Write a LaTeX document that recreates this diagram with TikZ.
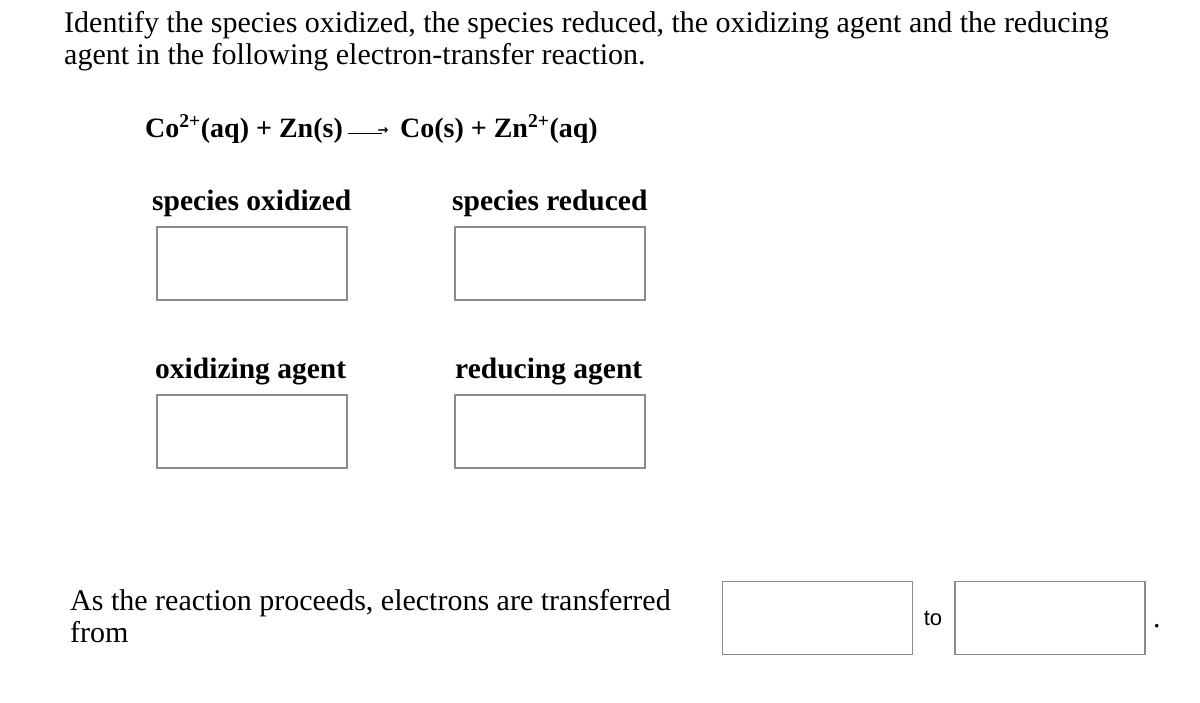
\documentclass[tikz,border=0pt]{standalone}
\usepackage{fontspec}
\setmainfont{Liberation Serif}
\begin{document}
\begin{tikzpicture}[x=1pt,y=-1pt,
  txt/.style={anchor=base west,inner sep=0pt,font=\fontsize{30}{33}\selectfont},
  btxt/.style={anchor=base west,inner sep=0pt,font=\fontsize{29.5}{30}\selectfont\bfseries},
  ansbox/.style={draw=black!45,line width=1.5pt,minimum width=190pt,minimum height=73pt,inner sep=0pt}]
\useasboundingbox (0,0) rectangle (1200,702);
\node[txt] (l1) at (64,32) {Identify the species oxidized, the species reduced, the oxidizing agent and the reducing};
\node[txt] (l2) at (64,64) {agent in the following electron-transfer reaction.};
\node[btxt,font=\fontsize{28}{30}\selectfont\bfseries] (eq) at (145,137) {Co\textsuperscript{2+}(aq) + Zn(s)\,\raisebox{0.25ex}{\rule{34pt}{0.8pt}}\kern-4pt{\fontspec{DejaVu Sans}\fontsize{13}{13}\selectfont\raisebox{0.4ex}{→}}\, Co(s) + Zn\textsuperscript{2+}(aq)};
\node[btxt] (so) at (152,210) {species oxidized};
\node[btxt] (sr) at (452,210) {species reduced};
\node[ansbox] (b1) at (252,263.5) {};
\node[ansbox] (b2) at (550,263.5) {};
\node[btxt] (oa) at (155,378) {oxidizing agent};
\node[btxt] (ra) at (455,378) {reducing agent};
\node[ansbox] (b3) at (252,431.5) {};
\node[ansbox] (b4) at (550,431.5) {};
\node[txt] (p1) at (70,610) {As the reaction proceeds, electrons are transferred};
\node[txt] (p2) at (70,642) {from};
\node[ansbox] (b5) at (817.5,618) {};
\node[ansbox] (b6) at (1050,618) {};
\node[anchor=center,inner sep=0pt,font=\fontspec{Liberation Sans}\fontsize{22}{26}\selectfont] (to) at (933,618) {to};
\node[txt] (dot) at (1153,627) {.};
\end{tikzpicture}
\end{document}
